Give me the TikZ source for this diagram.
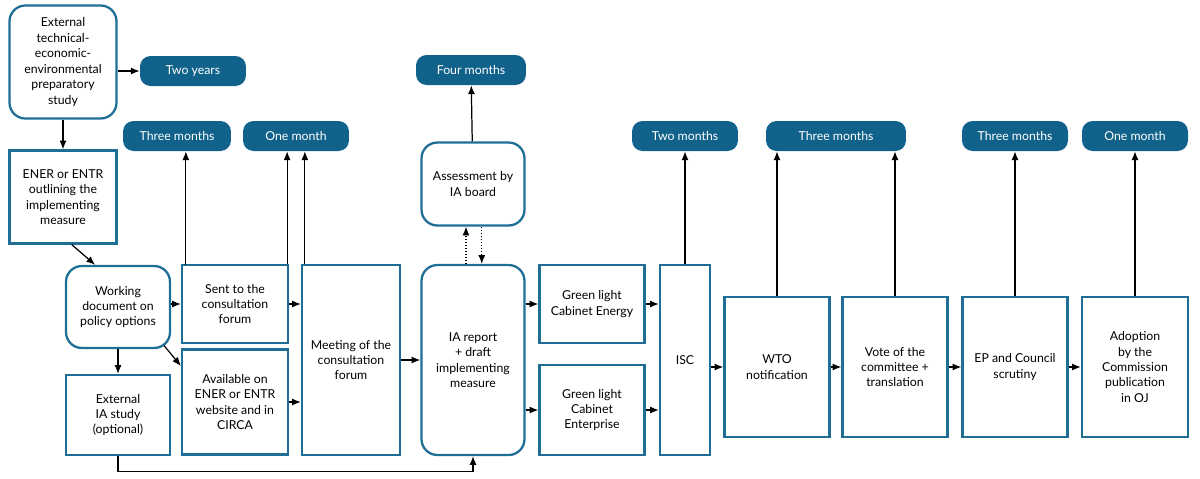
\documentclass[tikz,border=0pt]{standalone}
\usepackage{fontspec}
\setmainfont{Lato}
\usetikzlibrary{arrows.meta}
\definecolor{euline}{HTML}{1F6E96}
\definecolor{eufill}{HTML}{11628A}
\begin{document}
\begin{tikzpicture}[x=0.02cm,y=-0.02cm,
    every node/.style={font=\fontsize{7}{8.8}\selectfont, align=center, inner sep=1pt},
    box/.style={draw=euline, line width=1.3pt},
    rbox/.style={box, rounded corners=9pt},
    pill/.style={fill=eufill, text=white, rounded corners=6pt, minimum height=0.6cm},
    arr/.style={-{Latex[length=5pt,width=4pt]}, line width=0.7pt}]
    \useasboundingbox (0,0) rectangle (1200,478);

    % Preparation
    \node[rbox, minimum width=2.14cm, minimum height=2.26cm] (study) at (63,62) {External\\technical-\\economic-\\environmental\\preparatory\\study};
    \node[pill, minimum width=2.12cm] (twoy) at (193,71) {Two years};
    \node[box, minimum width=2.14cm, minimum height=1.86cm] (ener) at (63,197) {ENER or ENTR\\outlining the\\implementing\\measure};
    \node[rbox, minimum width=2.08cm, minimum height=1.64cm] (work) at (118,307) {Working\\document on\\policy options};
    \node[box, minimum width=2.08cm, minimum height=1.6cm] (extia) at (118,415) {External\\IA study\\(optional)};

    % Consultation
    \node[box, minimum width=2.12cm, minimum height=1.56cm] (sent) at (235,304) {Sent to the\\consultation\\forum};
    \node[box, minimum width=2.12cm, minimum height=2.1cm] (avail) at (235,402) {Available on\\ENER or ENTR\\website and in\\CIRCA};
    \node[box, minimum width=1.96cm, minimum height=3.8cm] (meet) at (351,360) {Meeting of the\\consultation\\forum};
    \node[pill, minimum width=2.16cm] (threem1) at (177,136) {Three months};
    \node[pill, minimum width=2.12cm] (onem1) at (296,136) {One month};

    % Impact assessment
    \node[rbox, minimum width=2.06cm, minimum height=3.8cm] (iarep) at (473,360) {IA report\\+ draft\\implementing\\measure};
    \node[rbox, minimum width=2.06cm, minimum height=1.66cm] (board) at (473,184) {Assessment by\\IA board};
    \node[pill, minimum width=2.2cm] (fourm) at (471,70) {Four months};
    \node[box, minimum width=2.1cm, minimum height=1.56cm] (gren) at (592,304) {Green light\\Cabinet Energy};
    \node[box, minimum width=2.1cm, minimum height=1.8cm] (gent) at (592,410) {Green light\\Cabinet\\Enterprise};
    \node[box, minimum width=1cm, minimum height=3.8cm] (isc) at (685,360) {ISC};
    \node[pill, minimum width=2.12cm] (twom) at (685,136) {Two months};

    % Adoption
    \node[box, minimum width=2.1cm, minimum height=2.8cm] (wto) at (777,367) {WTO\\notification};
    \node[box, minimum width=2.1cm, minimum height=2.8cm] (vote) at (895,367) {Vote of the\\committee +\\translation};
    \node[box, minimum width=2.1cm, minimum height=2.8cm] (ep) at (1015,367) {EP and Council\\scrutiny};
    \node[box, minimum width=2.12cm, minimum height=2.8cm] (adopt) at (1135,367) {Adoption\\by the\\Commission\\publication\\in OJ};
    \node[pill, minimum width=2.8cm] (threem2) at (836,136) {Three months};
    \node[pill, minimum width=2.12cm] (threem3) at (1015,136) {Three months};
    \node[pill, minimum width=2.12cm] (onem2) at (1135,136) {One month};

    % Connectors
    \draw[arr] (study.east |- twoy) -- (twoy);
    \draw[arr] (study) -- (ener);
    \draw[arr] ([xshift=5pt]ener.south) -- ([xshift=-13pt]work.north);
    \draw[arr] (work.east |- sent) -- (sent);
    \draw[arr] ([xshift=-4pt,yshift=2pt]work.south east) -- ([yshift=-10pt]avail.north west);
    \draw[arr] (work) -- (extia);
    \draw[arr] (extia.south) -- ++(0,15) -| (iarep.south);
    \draw[arr] (work.north -| threem1.300) -- (threem1.300 |- threem1.south);
    \draw[arr] (sent.north -| onem1.240) -- (onem1.240 |- onem1.south);
    \draw[arr] (meet.north -| onem1.300) -- (onem1.300 |- onem1.south);
    \draw[arr] (sent) -- (meet.west |- sent);
    \draw[arr] (avail) -- (meet.west |- avail);
    \draw[arr] (meet) -- (iarep);
    \draw[arr, densely dotted] ([xshift=-4pt]iarep.north) -- ([xshift=-4pt]board.south);
    \draw[arr, densely dotted] ([xshift=5pt]board.south) -- ([xshift=5pt]iarep.north);
    \draw[arr] (board) -- (fourm);
    \draw[arr] (iarep.east |- gren) -- (gren);
    \draw[arr] (iarep.east |- gent) -- (gent);
    \draw[arr] (gren) -- (isc.west |- gren);
    \draw[arr] (gent) -- (isc.west |- gent);
    \draw[arr] (isc) -- (twom);
    \draw[arr] (isc.east |- wto) -- (wto);
    \draw[arr] (wto.north) -- (wto.north |- threem2.south);
    \draw[arr] (vote.north) -- (vote.north |- threem2.south);
    \draw[arr] (wto) -- (vote);
    \draw[arr] (vote) -- (ep);
    \draw[arr] (ep) -- (adopt);
    \draw[arr] (ep) -- (threem3);
    \draw[arr] (adopt) -- (onem2);
\end{tikzpicture}
\end{document}
